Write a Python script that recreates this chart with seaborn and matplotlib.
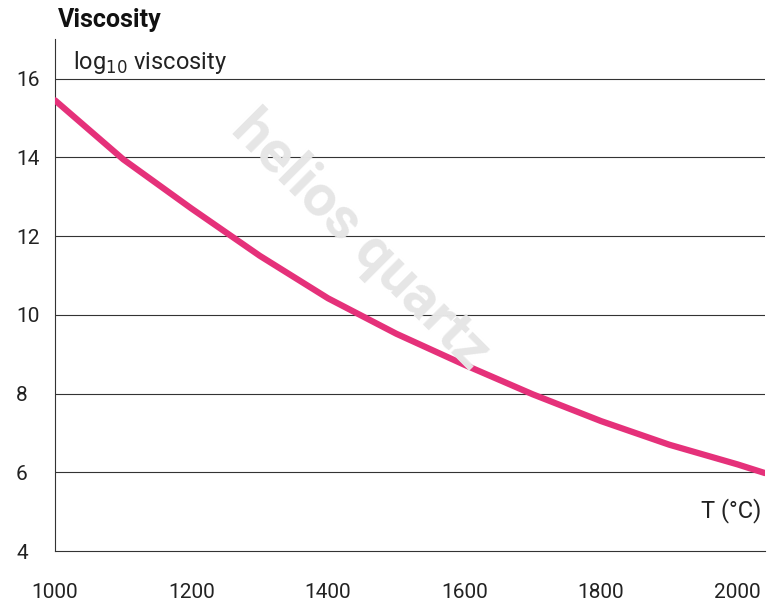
import matplotlib
matplotlib.use("Agg")
import matplotlib.pyplot as plt
import seaborn as sns
import pandas as pd

temps = [1000, 1100, 1200, 1300, 1400, 1500, 1600, 1700, 1800, 1900, 2000, 2040]
log_visc = [15.45, 13.95, 12.7, 11.5, 10.42, 9.52, 8.73, 7.98, 7.3, 6.7, 6.2, 5.98]
xticks = [1000, 1200, 1400, 1600, 1800, 2000]
yticks = [4, 6, 8, 10, 12, 14, 16]

sns.set_theme(style="white")
plt.rcParams['font.family'] = ['Roboto', 'DejaVu Sans']

df = pd.DataFrame({"T": temps, "v": log_visc})
fig = plt.figure(figsize=(7.68, 6.02), dpi=100)
ax = fig.add_axes([0.0716, 0.0847, 0.9244, 0.85])
for y in yticks[1:]:
    ax.axhline(y, color="#333333", lw=0.8, zorder=1)
sns.lineplot(data=df, x="T", y="v", ax=ax, color="#e5317a", lw=4.5, zorder=3)
ax.set_xlim(1000, 2040)
ax.set_ylim(4, 17)
for s in ["top", "right"]:
    ax.spines[s].set_visible(False)
for s in ["left", "bottom"]:
    ax.spines[s].set_color("#333333"); ax.spines[s].set_linewidth(0.8)
ax.set_xticks(xticks)
ax.set_xticklabels([str(t) for t in xticks], fontsize=15, color="#222222")
ax.set_yticks(yticks)
ax.set_yticklabels([str(t) for t in yticks], fontsize=15, color="#222222")
ax.tick_params(axis="x", direction="inout", length=18, width=0.8, color="#333333", pad=14)
ax.tick_params(axis="y", length=0, pad=28)
for lab in ax.get_yticklabels():
    lab.set_horizontalalignment("left")
ax.xaxis.get_major_ticks()[0].tick1line.set_visible(False)
ax.set_xlabel(""); ax.set_ylabel("")
fig.text(0.075, 0.955, "Viscosity", fontsize=18, fontweight="bold", color="#111111")
fig.text(0.095, 0.885, "log$_{10}$ viscosity", fontsize=17, color="#222222")
ax.text(2035, 4.7, "T (°C)", fontsize=17, ha="right", va="bottom", color="#222222")
fig.text(0.47, 0.6, "helios quartz", fontsize=42, fontweight="bold", color="#e6e6e6",
         rotation=-45, ha="center", va="center", zorder=0)
fig.savefig("out.png", dpi=100)
